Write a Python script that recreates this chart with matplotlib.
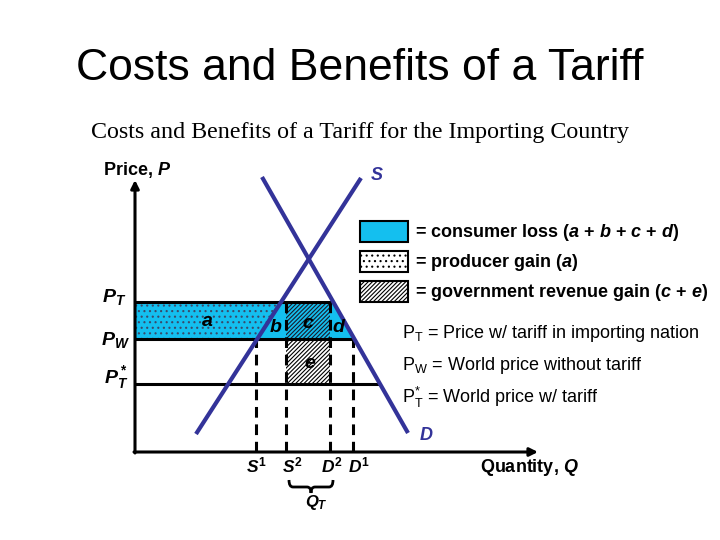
import numpy as np
import matplotlib
matplotlib.use('Agg')
import matplotlib.pyplot as plt
from matplotlib.patches import Polygon, Rectangle, Patch, PathPatch
from matplotlib.path import Path

# ---------------- data ----------------
p_tariff = 150          # P_T
p_world = 113           # P_W
p_world_tariff = 68     # P*_T
supply_q = [61, 226]
supply_p = [18, 274]
demand_q = [127, 273]
demand_p = [275, 19]
# quantities marked by the dashed lines: S1, S2, D2, D1
quantities = [121, 151, 195, 218]

title = 'Costs and Benefits of a Tariff'
subtitle = 'Costs and Benefits of a Tariff for the Importing Country'
legend_labels = [r'= consumer loss ($a$ + $b$ + $c$ + $d$)',
                 r'= producer gain ($a$)',
                 r'= government revenue gain ($c$ + $e$)']
definitions = [r'P$_\mathsf{T}$ = Price w/ tariff in importing nation',
               r'P$_\mathsf{W}$ = World price without tariff',
               r'P$^\mathsf{*}_\mathsf{T}$ = World price w/ tariff']
price_labels = [r'$P_T$', r'$P_W$', r'$P^*_T$']
qty_labels = [r'$S^\mathrm{1}$', r'$S^\mathrm{2}$', r'$D^\mathrm{2}$', r'$D^\mathrm{1}$']
region_labels = ['a', 'b', 'c', 'd', 'e']

# ---------------- style ----------------
plt.rcParams.update({
    'font.family': ['Liberation Sans', 'DejaVu Sans'],
    'mathtext.fontset': 'custom',
    'mathtext.rm': 'Liberation Sans:bold',
    'mathtext.it': 'Liberation Sans:italic:bold',
    'mathtext.bf': 'Liberation Sans:bold',
    'mathtext.sf': 'Liberation Sans',
    'hatch.linewidth': 0.8,
})
BLUE = '#14BFEF'
NAVY = '#333399'
LW = 2.2


def q_supply(p):
    return float(np.interp(p, supply_p, supply_q))


def q_demand(p):
    return float(np.interp(p, demand_p[::-1], demand_q[::-1]))


S1, S2, D2, D1 = quantities

fig = plt.figure(figsize=(7.2, 5.4), dpi=100)
ax = fig.add_axes([135 / 720, 88 / 540, 400 / 720, 280 / 540])
ax.set_xlim(0, 400)
ax.set_ylim(0, 280)
ax.axis('off')

# regions
ax.add_patch(Polygon([(0, p_tariff), (q_demand(p_tariff), p_tariff),
                      (q_demand(p_world), p_world), (0, p_world)],
                     facecolor=BLUE, edgecolor='none', zorder=1))
ax.add_patch(Polygon([(0, p_tariff), (q_supply(p_tariff), p_tariff),
                      (q_supply(p_world), p_world), (0, p_world)],
                     facecolor='none', edgecolor='#3a4a6a', hatch='...', lw=0, zorder=2))
ax.add_patch(Rectangle((S2, p_world), D2 - S2, p_tariff - p_world,
                       facecolor=BLUE, edgecolor='#1a1a2a', hatch='////////', lw=0, zorder=2))
ax.add_patch(Rectangle((S2, p_world_tariff), D2 - S2, p_world - p_world_tariff,
                       facecolor='white', edgecolor='black', hatch='////////', lw=0, zorder=2))

# price lines
for p in (p_tariff, p_world, p_world_tariff):
    ax.plot([0, q_demand(p)], [p, p], color='black', lw=LW, solid_capstyle='butt', zorder=3)

# dashed quantity lines
for q, top in zip(quantities, (p_world, p_tariff, p_tariff, p_world)):
    ax.plot([q, q], [0, top], color='black', lw=LW, ls=(0, (3.5, 2.2)), zorder=3)

# supply and demand
ax.plot(supply_q, supply_p, color=NAVY, lw=3, solid_capstyle='butt', zorder=4)
ax.plot(demand_q, demand_p, color=NAVY, lw=3, solid_capstyle='butt', zorder=4)

# axes with arrows
ax.annotate('', xy=(0, 272), xytext=(0, -1),
            arrowprops=dict(arrowstyle='-|>', lw=LW, color='black', mutation_scale=12,
                            shrinkA=0, shrinkB=0), annotation_clip=False, zorder=5)
ax.annotate('', xy=(403, 0), xytext=(-1, 0),
            arrowprops=dict(arrowstyle='-|>', lw=LW, color='black', mutation_scale=12,
                            shrinkA=0, shrinkB=0), annotation_clip=False, zorder=5)

# curve labels
ax.text(236, 277, 'S', color=NAVY, fontsize=13, style='italic', weight='bold', va='center')
ax.text(285, 17, 'D', color=NAVY, fontsize=13, style='italic', weight='bold', va='center')

# region labels
reg_pos = [(72, 131), (S2 - 10, 124), ((S2 + D2) / 2, 129), (D2 + 8, 125), ((S2 + D2) / 2 + 2, 88)]
for lab, (x, y) in zip(region_labels, reg_pos):
    ax.text(x, y, lab, fontsize=14, style='italic', weight='bold', ha='center', va='center', zorder=6)

# price labels
for lab, x, y in zip(price_labels, (-9, -5, -7), (p_tariff + 5, p_world - 1, p_world_tariff + 6)):
    ax.text(x, y, lab, fontsize=14, ha='right', va='center')

ax.text(-32, 282, r'Price, $P$', fontsize=13, weight='bold', va='center')
ax.text(345, -16, r'Quantity, $Q$', fontsize=13, weight='bold', va='center')

# quantity labels
for lab, q, dx in zip(qty_labels, quantities, (1, 6, 2, 6)):
    ax.text(q + dx, -13, lab, fontsize=12.5, ha='center', va='center')

# brace under S2..D2
x0, x1 = S2 + 3, D2 + 3
xm = (x0 + x1) / 2
ytop, ymid, ytip = -28, -35, -41
verts = [(x0, ytop), (x0, ymid), (x0 + 4, ymid), (xm - 4, ymid), (xm, ymid), (xm, ytip),
         (xm, ymid), (xm + 4, ymid), (x1 - 4, ymid), (x1, ymid), (x1, ytop)]
codes = [Path.MOVETO, Path.CURVE3, Path.CURVE3, Path.LINETO, Path.CURVE3, Path.CURVE3,
         Path.CURVE3, Path.CURVE3, Path.LINETO, Path.CURVE3, Path.CURVE3]
ax.add_patch(PathPatch(Path(verts, codes), facecolor='none', edgecolor='black', lw=2, clip_on=False))
ax.text(xm + 5, -50, r'$Q_T$', fontsize=12, ha='center', va='center')

# definitions
for txt, y in zip(definitions, (119, 87, 55)):
    ax.text(267, y, txt, fontsize=13, va='center')

# legend
handles = [Patch(facecolor=BLUE, edgecolor='black', lw=1.5),
           Patch(facecolor='white', edgecolor='black', hatch='...', lw=1.5),
           Patch(facecolor='white', edgecolor='black', hatch='////////', lw=1.5)]
fig.legend(handles, legend_labels, loc='upper left', bbox_to_anchor=(360 / 720, 1 - 221 / 540),
           bbox_transform=fig.transFigure, frameon=False, prop={'weight': 'bold', 'size': 13},
           handlelength=2.67, handleheight=1.4, handletextpad=0.39, labelspacing=0.42,
           borderpad=0, borderaxespad=0)

# titles
fig.text(0.5, 1 - 69 / 540, title, ha='center', va='center', fontsize=32)
fig.text(0.5, 1 - 133 / 540, subtitle, ha='center', va='center', fontsize=17.3,
         family='Liberation Serif')

fig.savefig('out.png', dpi=100)
